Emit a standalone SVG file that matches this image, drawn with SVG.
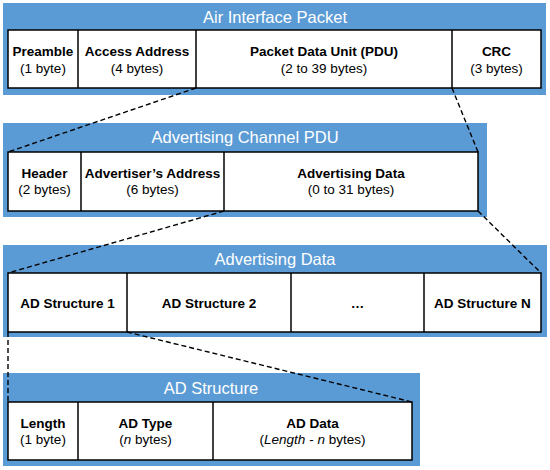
<svg xmlns="http://www.w3.org/2000/svg" width="550" height="470" viewBox="0 0 550 470">
<style>
.panel{fill:#5B9BD5}
.tbl{fill:#fff;stroke:#000;stroke-width:1.5}
.div{stroke:#000;stroke-width:1.5}
.title{font-family:"Liberation Sans",Arial,sans-serif;font-size:16.5px;fill:#fff;text-anchor:middle}
.b{font-family:"Liberation Sans",Arial,sans-serif;font-size:13.5px;font-weight:bold;fill:#000;text-anchor:middle}
.r{font-family:"Liberation Sans",Arial,sans-serif;font-size:13.5px;fill:#000;text-anchor:middle}
.conn{stroke:#000;stroke-width:1.4;stroke-dasharray:5,3;fill:none}
</style>
<rect width="550" height="470" fill="#fff"/>
<g id="air-interface-packet">
<rect class="panel" x="3" y="3" width="543" height="92"/>
<text class="title" x="275" y="23">Air Interface Packet</text>
<rect class="tbl" x="8" y="30" width="533" height="58"/>
<line class="div" x1="78" y1="30" x2="78" y2="88"/>
<line class="div" x1="196" y1="30" x2="196" y2="88"/>
<line class="div" x1="452" y1="30" x2="452" y2="88"/>
<text class="b" x="43" y="56">Preamble</text><text class="r" x="43" y="72.500">(1 byte)</text>
<text class="b" x="137" y="56">Access Address</text><text class="r" x="137" y="72.500">(4 bytes)</text>
<text class="b" x="324" y="56">Packet Data Unit (PDU)</text><text class="r" x="324" y="72.500">(2 to 39 bytes)</text>
<text class="b" x="496.500" y="56">CRC</text><text class="r" x="496.500" y="72.500">(3 bytes)</text>
</g>
<g id="advertising-channel-pdu">
<rect class="panel" x="3" y="123" width="484" height="94"/>
<text class="title" x="245" y="143">Advertising Channel PDU</text>
<rect class="tbl" x="8" y="152" width="470" height="59"/>
<line class="div" x1="81" y1="152" x2="81" y2="211"/>
<line class="div" x1="224" y1="152" x2="224" y2="211"/>
<text class="b" x="44.500" y="178">Header</text><text class="r" x="44.500" y="194">(2 bytes)</text>
<text class="b" x="152.500" y="178">Advertiser’s Address</text><text class="r" x="152.500" y="194">(6 bytes)</text>
<text class="b" x="351" y="178">Advertising Data</text><text class="r" x="351" y="194">(0 to 31 bytes)</text>
</g>
<g id="advertising-data">
<rect class="panel" x="3" y="245" width="544" height="92"/>
<text class="title" x="275" y="265">Advertising Data</text>
<rect class="tbl" x="8" y="273" width="533" height="59"/>
<line class="div" x1="127" y1="273" x2="127" y2="332"/>
<line class="div" x1="291" y1="273" x2="291" y2="332"/>
<line class="div" x1="424" y1="273" x2="424" y2="332"/>
<text class="b" x="67.500" y="307.500">AD Structure 1</text>
<text class="b" x="209" y="307.500">AD Structure 2</text>
<text class="b" x="357.500" y="307.500">…</text>
<text class="b" x="482.500" y="307.500">AD Structure N</text>
</g>
<g id="ad-structure">
<rect class="panel" x="3" y="373" width="417" height="93"/>
<text class="title" x="211" y="394">AD Structure</text>
<rect class="tbl" x="8" y="402" width="404" height="58"/>
<line class="div" x1="78" y1="402" x2="78" y2="460"/>
<line class="div" x1="213" y1="402" x2="213" y2="460"/>
<text class="b" x="43" y="427.500">Length</text><text class="r" x="43" y="444">(1 byte)</text>
<text class="b" x="145.500" y="427.500">AD Type</text><text class="r" x="145.500" y="444">(<tspan font-style="italic">n</tspan> bytes)</text>
<text class="b" x="312.500" y="427.500">AD Data</text><text class="r" x="312.500" y="444">(<tspan font-style="italic">Length</tspan> - <tspan font-style="italic">n</tspan> bytes)</text>
</g>
<g id="connectors">
<line class="conn" x1="196" y1="88" x2="8" y2="152"/>
<line class="conn" x1="452" y1="88" x2="478" y2="152"/>
<line class="conn" x1="224" y1="211" x2="8" y2="273"/>
<line class="conn" x1="478" y1="211" x2="541" y2="273"/>
<line class="conn" x1="127" y1="332" x2="412" y2="402"/>
<line class="conn" x1="8" y1="332" x2="8" y2="402"/>
</g>
</svg>
